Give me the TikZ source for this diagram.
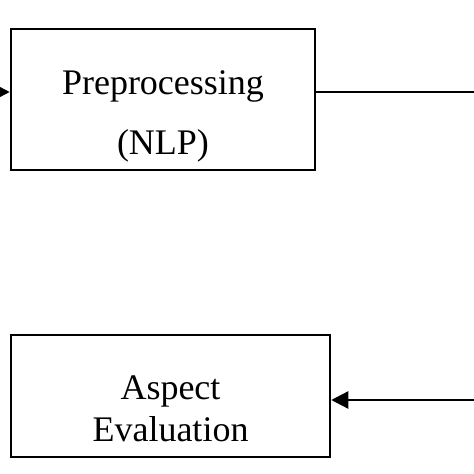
\documentclass[tikz,border=0pt]{standalone}
\usepackage{fontspec}
\setmainfont{Liberation Serif}
\usetikzlibrary{positioning,arrows.meta}
\begin{document}
\begin{tikzpicture}
            [
            x=1pt, y=1pt,
            block/.style={rectangle, draw, line width=2.5pt, inner sep=0pt},
            block text/.style={anchor=base, font=\fontsize{36}{40}\selectfont},
            flow/.style={-{Triangle[length=17pt, width=17pt]}, line width=2.3pt}
            ]
            \useasboundingbox (0,0) rectangle (474,474);

            \node (pre) [block, minimum width=304pt, minimum height=141pt] at (163,374.5) {};
            \node (pre1) [block text] at ([yshift=4.5pt]pre.center) {Preprocessing};
            \node (pre2) [block text] at ([yshift=-55.5pt]pre.center) {(NLP)};

            \node (asp) [block, minimum width=319pt, minimum height=122pt] at (170.5,78) {};
            \node (asp1) [block text] at ([yshift=-4pt]asp.center) {Aspect};
            \node (asp2) [block text] at ([yshift=-46pt]asp.center) {Evaluation};

            % Loose ends outside the frame
            \coordinate (in) at (-30,382);
            \coordinate (out) at (500,382);
            \coordinate (back) at (500,74);

            \draw [flow] (in) -- (in -| pre.west);
            \draw [line width=2.3pt] (pre.east |- out) -- (out);
            \draw [flow] (back) -- (back -| asp.east);

        \end{tikzpicture}
\end{document}
